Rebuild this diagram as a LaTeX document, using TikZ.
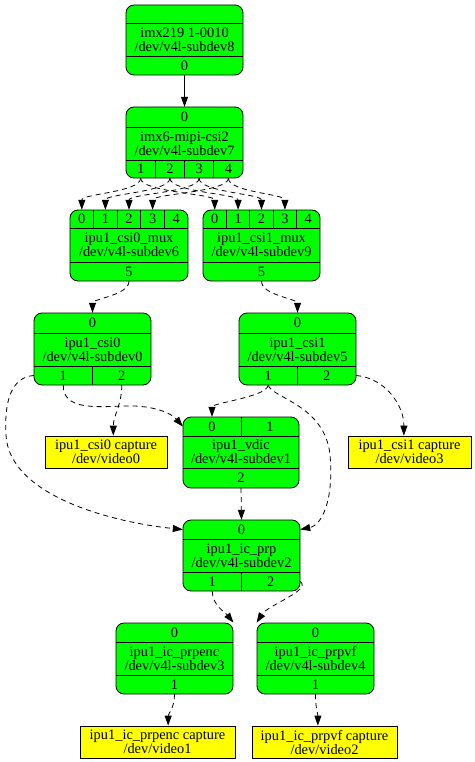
\documentclass[tikz,border=0pt]{standalone}
\usepackage{fontspec}
\setmainfont{Liberation Serif}
\usetikzlibrary{arrows.meta}
\definecolor{gvgreen}{RGB}{0,255,0}
\definecolor{gvyellow}{RGB}{255,255,0}
\newcommand\gvfont{\fontsize{14.4}{14}\selectfont}
\begin{document}
\begin{tikzpicture}[x=1pt,y=-1pt,
  rec/.style={draw, fill=gvgreen, rounded corners=8pt, inner sep=0pt, line width=0.8pt},
  capbox/.style={draw, fill=gvyellow, inner sep=0pt, line width=0.8pt, align=center, font=\gvfont},
  lbl/.style={inner sep=0pt, align=center, font=\gvfont},
  cell/.style={inner sep=0pt, font=\gvfont},
  sep/.style={line width=0.8pt},
  dedge/.style={draw, dash pattern=on 5pt off 4pt, line width=0.8pt, -{Triangle[length=10pt,width=7pt]}},
  sedge/.style={draw, line width=0.8pt, -{Triangle[length=10pt,width=7pt]}}
]
\useasboundingbox (0,0) rectangle (474,762);

% imx219
\node[rec, minimum width=117pt, minimum height=70pt] (imx) at (184.5,40) {};
\draw[sep] (126,23) -- (243,23) (126,56) -- (243,56);
\node[lbl] (imxname) at (184.5,39.5) {imx219 1-0010\\/dev/v4l-subdev8};
\node[cell, minimum width=117pt, minimum height=19pt] (imxp0) at (184.5,65.5) {0};

% imx6-mipi-csi2
\node[rec, minimum width=117pt, minimum height=71pt] (csi2) at (184.5,142.5) {};
\draw[sep] (126,127) -- (243,127) (126,160) -- (243,160);
\draw[sep] (155.25,160) -- (155.25,178) (184.5,160) -- (184.5,178) (213.75,160) -- (213.75,178);
\node[cell, minimum width=117pt, minimum height=20pt] (csi2p0) at (184.5,117) {0};
\node[lbl] (csi2name) at (184.5,143.5) {imx6-mipi-csi2\\/dev/v4l-subdev7};
\node[cell, minimum width=29.25pt, minimum height=18pt] (csi2p1) at (140.6,169) {1};
\node[cell, minimum width=29.25pt, minimum height=18pt] (csi2p2) at (169.9,169) {2};
\node[cell, minimum width=29.25pt, minimum height=18pt] (csi2p3) at (199.1,169) {3};
\node[cell, minimum width=29.25pt, minimum height=18pt] (csi2p4) at (228.4,169) {4};

% ipu1_csi0_mux
\node[rec, minimum width=118pt, minimum height=71pt] (m0) at (129,245.5) {};
\draw[sep] (70,228) -- (188,228) (70,262) -- (188,262);
\draw[sep] (93.6,210) -- (93.6,228) (117.2,210) -- (117.2,228) (140.8,210) -- (140.8,228) (164.4,210) -- (164.4,228);
\node[cell, minimum width=23.6pt, minimum height=18pt] (m0p0) at (81.8,219) {0};
\node[cell, minimum width=23.6pt, minimum height=18pt] (m0p1) at (105.4,219) {1};
\node[cell, minimum width=23.6pt, minimum height=18pt] (m0p2) at (129,219) {2};
\node[cell, minimum width=23.6pt, minimum height=18pt] (m0p3) at (152.6,219) {3};
\node[cell, minimum width=23.6pt, minimum height=18pt] (m0p4) at (176.2,219) {4};
\node[lbl] (m0name) at (129,245) {ipu1\_csi0\_mux\\/dev/v4l-subdev6};
\node[cell, minimum width=118pt, minimum height=19pt] (m0p5) at (129,271.5) {5};

% ipu1_csi1_mux
\node[rec, minimum width=117pt, minimum height=71pt] (m1) at (261.5,245.5) {};
\draw[sep] (203,228) -- (320,228) (203,262) -- (320,262);
\draw[sep] (226.4,210) -- (226.4,228) (249.8,210) -- (249.8,228) (273.2,210) -- (273.2,228) (296.6,210) -- (296.6,228);
\node[cell, minimum width=23.4pt, minimum height=18pt] (m1p0) at (214.7,219) {0};
\node[cell, minimum width=23.4pt, minimum height=18pt] (m1p1) at (238.1,219) {1};
\node[cell, minimum width=23.4pt, minimum height=18pt] (m1p2) at (261.5,219) {2};
\node[cell, minimum width=23.4pt, minimum height=18pt] (m1p3) at (284.9,219) {3};
\node[cell, minimum width=23.4pt, minimum height=18pt] (m1p4) at (308.3,219) {4};
\node[lbl] (m1name) at (261.5,245) {ipu1\_csi1\_mux\\/dev/v4l-subdev9};
\node[cell, minimum width=117pt, minimum height=19pt] (m1p5) at (261.5,271.5) {5};

% ipu1_csi0
\node[rec, minimum width=117pt, minimum height=72pt] (csi0) at (92.5,349) {};
\draw[sep] (34,333) -- (151,333) (34,366) -- (151,366) (92.5,366) -- (92.5,385);
\node[cell, minimum width=117pt, minimum height=20pt] (csi0p0) at (92.5,323) {0};
\node[lbl] (csi0name) at (92.5,349.5) {ipu1\_csi0\\/dev/v4l-subdev0};
\node[cell, minimum width=58.5pt, minimum height=19pt] (csi0p1) at (63.25,375.5) {1};
\node[cell, minimum width=58.5pt, minimum height=19pt] (csi0p2) at (121.75,375.5) {2};

% ipu1_csi1
\node[rec, minimum width=117pt, minimum height=72pt] (csi1) at (297.5,349) {};
\draw[sep] (239,333) -- (356,333) (239,366) -- (356,366) (297.5,366) -- (297.5,385);
\node[cell, minimum width=117pt, minimum height=20pt] (csi1p0) at (297.5,323) {0};
\node[lbl] (csi1name) at (297.5,349.5) {ipu1\_csi1\\/dev/v4l-subdev5};
\node[cell, minimum width=58.5pt, minimum height=19pt] (csi1p1) at (268.25,375.5) {1};
\node[cell, minimum width=58.5pt, minimum height=19pt] (csi1p2) at (326.75,375.5) {2};

% captures
\node[capbox, minimum width=122pt, minimum height=32pt] (csi0cap) at (106,452) {ipu1\_csi0 capture\\/dev/video0};
\node[capbox, minimum width=123pt, minimum height=32pt] (csi1cap) at (409.5,452) {ipu1\_csi1 capture\\/dev/video3};

% ipu1_vdic
\node[rec, minimum width=116pt, minimum height=71pt] (vdic) at (241,452.5) {};
\draw[sep] (183,436) -- (299,436) (183,468) -- (299,468) (241,417) -- (241,436);
\node[cell, minimum width=58pt, minimum height=19pt] (vdicp0) at (212,426.5) {0};
\node[cell, minimum width=58pt, minimum height=19pt] (vdicp1) at (270,426.5) {1};
\node[lbl] (vdicname) at (241,452) {ipu1\_vdic\\/dev/v4l-subdev1};
\node[cell, minimum width=116pt, minimum height=20pt] (vdicp2) at (241,478) {2};

% ipu1_ic_prp
\node[rec, minimum width=117pt, minimum height=71pt] (prp) at (241.5,555.5) {};
\draw[sep] (183,539) -- (300,539) (183,572) -- (300,572) (241.5,572) -- (241.5,591);
\node[cell, minimum width=117pt, minimum height=19pt] (prpp0) at (241.5,529.5) {0};
\node[lbl] (prpname) at (241.5,555.5) {ipu1\_ic\_prp\\/dev/v4l-subdev2};
\node[cell, minimum width=58.5pt, minimum height=19pt] (prpp1) at (212.25,581.5) {1};
\node[cell, minimum width=58.5pt, minimum height=19pt] (prpp2) at (270.75,581.5) {2};

% ipu1_ic_prpenc
\node[rec, minimum width=117pt, minimum height=71pt] (prpenc) at (174.5,658.5) {};
\draw[sep] (116,642) -- (233,642) (116,675) -- (233,675);
\node[cell, minimum width=117pt, minimum height=19pt] (prpencp0) at (174.5,632.5) {0};
\node[lbl] (prpencname) at (174.5,658.5) {ipu1\_ic\_prpenc\\/dev/v4l-subdev3};
\node[cell, minimum width=117pt, minimum height=19pt] (prpencp1) at (174.5,684.5) {1};

% ipu1_ic_prpvf
\node[rec, minimum width=117pt, minimum height=71pt] (prpvf) at (315.5,658.5) {};
\draw[sep] (257,642) -- (374,642) (257,675) -- (374,675);
\node[cell, minimum width=117pt, minimum height=19pt] (prpvfp0) at (315.5,632.5) {0};
\node[lbl] (prpvfname) at (315.5,658.5) {ipu1\_ic\_prpvf\\/dev/v4l-subdev4};
\node[cell, minimum width=117pt, minimum height=19pt] (prpvfp1) at (315.5,684.5) {1};

\node[capbox, minimum width=155pt, minimum height=32pt] (prpenccap) at (157.5,742) {ipu1\_ic\_prpenc capture\\/dev/video1};
\node[capbox, minimum width=145pt, minimum height=32pt] (prpvfcap) at (324.5,742) {ipu1\_ic\_prpvf capture\\/dev/video2};

% edges
\draw[sedge] (imxp0.south) -- (csi2p0.north);

\draw[dedge] (csi2p1.south) .. controls +(0,14) and +(0,-16) .. (m0p0.north);
\draw[dedge] (csi2p1.south) .. controls +(0,14) and +(0,-16) .. (m1p0.north);
\draw[dedge] (csi2p2.south) .. controls +(0,14) and +(0,-16) .. (m0p1.north);
\draw[dedge] (csi2p2.south) .. controls +(0,14) and +(0,-16) .. (m1p1.north);
\draw[dedge] (csi2p3.south) .. controls +(0,14) and +(0,-16) .. (m0p2.north);
\draw[dedge] (csi2p3.south) .. controls +(0,14) and +(0,-16) .. (m1p2.north);
\draw[dedge] (csi2p4.south) .. controls +(0,14) and +(0,-16) .. (m0p3.north);
\draw[dedge] (csi2p4.south) .. controls +(0,14) and +(0,-16) .. (m1p3.north);

\draw[dedge] (m0p5.south) .. controls +(0,14) and +(0,-14) .. (csi0p0.north);
\draw[dedge] (m1p5.south) .. controls +(0,14) and +(0,-14) .. (csi1p0.north);

\draw[dedge] (csi0p1.west) .. controls (12,377) and (4,400) .. (6,435) .. controls (9,495) and (110,522) .. (prpp0.west);
\draw[dedge] (csi0p1.south) .. controls (63,410) and (95,407) .. (125,406) .. controls (155,405) and (172,414) .. (vdicp0.west);
\draw[dedge] (csi0p2.south) .. controls +(0,20) and +(0,-20) .. (csi0cap.66);
\draw[dedge] (csi1p1.south) .. controls +(-2,12) and +(0,-14) .. (vdicp0.north);
\draw[dedge] (csi1p1.south) .. controls (272,398) and (325,405) .. (330,455) .. controls (334,500) and (322,525) .. (prpp0.east);
\draw[dedge] (csi1p2.east) .. controls (385,378) and (404,405) .. (csi1cap.109);
\draw[dedge] (vdicp2.south) -- (prpp0.north);
\draw[dedge] (prpp1.south) .. controls +(0,14) and +(-8,-10) .. (prpenc.north east);
\draw[dedge] (prpp2.east) .. controls (312,590) and (268,605) .. (prpvf.north west);
\draw[dedge] (prpencp1.south) .. controls +(0,14) and +(0,-12) .. (prpenccap.57);
\draw[dedge] (prpvfp1.south) .. controls +(0,14) and +(0,-12) .. (prpvfcap.112);
\end{tikzpicture}
\end{document}
